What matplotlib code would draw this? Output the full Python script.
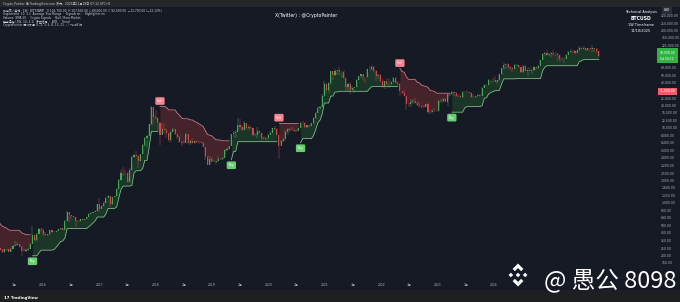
import datetime as dt
import numpy as np
import matplotlib
matplotlib.use("Agg")
import matplotlib.pyplot as plt
from matplotlib.patches import Rectangle, Polygon
from matplotlib.ticker import NullLocator, NullFormatter
from matplotlib.transforms import blended_transform_factory

plt.rcParams['font.family'] = ['DejaVu Sans', 'Noto Sans CJK SC']

# ---------------- data (BTC/USD, 2-week candles) ----------------
start_date = dt.date(2015, 1, 5)
step_days = 14
first_open = 275

closes = [
    210, 226, 235, 260, 285, 252, 237, 220, 240, 240, 225, 245, 270, 275, 281, 262, 228, 230, 233, 246, 285, 380, 322, 390, 455, 432,
    385, 378, 385, 432, 412, 416, 420, 447, 458, 440, 575, 760, 700, 665, 655, 570, 570, 610, 602, 617, 655, 705, 730, 765, 790, 965,
    820, 920, 1000, 1170, 1230, 970, 1190, 1240, 1560, 2050, 2520, 2500, 2480, 1920, 2750, 4100, 4350, 4250, 3650, 4450, 6000, 7400, 7800, 11200, 19100, 14000,
    13600, 11500, 8100, 9600, 9500, 8500, 7000, 8900, 9700, 8200, 7700, 6500, 6400, 6300, 8200, 6300, 6700, 6250, 6700, 6600, 6450, 6400, 5600, 4100, 3250, 3850,
    3550, 3550, 3650, 3900, 3900, 3990, 5050, 5300, 5750, 8200, 8700, 8900, 10800, 10300, 9500, 11500, 10100, 10400, 10000, 7950, 7950, 9200, 8500, 7450, 7100, 7300,
    8100, 8600, 9900, 9650, 8050, 5800, 6800, 7100, 8900, 9650, 9450, 9450, 9000, 9250, 9950, 11800, 11650, 10250, 10900, 10650, 11500, 13750, 15950, 18200, 19200, 26500,
    38200, 32300, 39200, 57500, 51000, 58100, 58700, 56200, 56600, 46500, 35700, 39100, 32200, 33700, 35400, 43800, 49300, 51800, 48300, 48200, 61500, 61300, 65000, 57200, 50100, 50800,
    41800, 36300, 42400, 38400, 38400, 41300, 46400, 39700, 38500, 31300, 29400, 26600, 21000, 20800, 22500, 23200, 21500, 20000, 19400, 19300, 19200, 20600, 16300, 16500, 17100, 16850,
    17100, 22700, 22900, 24600, 22400, 28000, 28400, 30300, 29200, 26900, 26800, 25900, 30500, 30300, 29800, 29000, 26100, 25800, 26500, 27900, 26900, 34500, 37100, 37500, 43800, 43000,
    44000, 41600, 43000, 51800, 63100, 68400, 71300, 65700, 63100, 61500, 69300, 69600, 64300, 55800, 68100, 58100, 59500, 57400, 59400, 65800, 63000, 67900, 80400, 98000, 99900, 95100,
    98300, 101300, 97700, 96100, 94200, 84000, 82400, 83800, 93700, 104100, 107000, 105600, 101000, 109200, 117300, 114200, 117400, 108300, 115300, 112200, 115100, 114500, 104700, 92000,
]
highs = [
    300, 310, 260, 262, 300, 290, 260, 240, 245, 245, 240, 252, 272, 315, 300, 285, 265, 240, 240, 250, 290, 500, 380, 400, 470, 465,
    460, 410, 390, 440, 440, 420, 425, 450, 468, 460, 590, 780, 770, 700, 680, 660, 590, 615, 612, 620, 660, 740, 750, 765, 795, 975,
    1160, 930, 1060, 1190, 1290, 1250, 1200, 1250, 1600, 2100, 2760, 3000, 2800, 2650, 2950, 4200, 4480, 4980, 4300, 4500, 6200, 7600, 8000, 11400, 19800, 19200,
    17250, 14100, 11900, 11800, 11700, 9900, 8600, 9000, 9900, 9800, 8200, 7800, 6800, 6800, 8500, 8200, 6900, 7400, 6800, 6800, 6700, 6550, 6600, 5600, 4300, 4200,
    4100, 3750, 3650, 4200, 3950, 4050, 5300, 5450, 5800, 8300, 9000, 9400, 13800, 13200, 11100, 12300, 11600, 10900, 10500, 10100, 8700, 10400, 9500, 8500, 7800, 7500,
    8200, 9200, 9900, 10500, 9950, 8150, 7000, 7450, 9450, 10000, 9950, 10400, 9800, 9450, 9950, 12100, 12450, 12050, 11100, 11000, 11750, 14050, 16500, 19400, 19900, 28400,
    41900, 40000, 40900, 58300, 57500, 61700, 60000, 64800, 57500, 59500, 46600, 39500, 41300, 36600, 35600, 44600, 49400, 52100, 52900, 48400, 62000, 67000, 69000, 66300, 59200, 51900,
    52000, 44400, 42600, 45800, 45400, 42400, 48200, 47300, 42900, 40000, 31400, 32200, 26700, 21500, 24200, 24600, 25200, 22000, 22800, 20300, 20500, 21000, 21500, 17200, 18000, 18400,
    17100, 23300, 24200, 25200, 25100, 28400, 29200, 31000, 30500, 29800, 28200, 28400, 31400, 31400, 31800, 30000, 30200, 28100, 26900, 28000, 28600, 35000, 38000, 38400, 44700, 44000,
    45900, 49000, 43800, 52800, 63900, 73800, 71700, 72800, 67200, 64800, 71900, 71900, 70000, 64500, 68400, 70000, 62700, 65100, 60600, 66500, 66000, 69500, 80500, 99600, 103900, 108300,
    99900, 102700, 109400, 102500, 99500, 95000, 88800, 88500, 95700, 104900, 111900, 110400, 110600, 109700, 123200, 120200, 124500, 117600, 116800, 117900, 126200, 116000, 116400, 107500,
]
lows = [
    170, 205, 210, 230, 255, 240, 235, 218, 218, 232, 222, 224, 240, 265, 270, 258, 195, 226, 225, 230, 245, 280, 300, 315, 385, 415,
    365, 365, 365, 380, 400, 405, 410, 418, 440, 440, 440, 570, 550, 620, 645, 480, 565, 565, 595, 600, 615, 650, 690, 725, 755, 790,
    750, 820, 910, 990, 1160, 890, 950, 1170, 1230, 1550, 1950, 2300, 2350, 1850, 1900, 2650, 3950, 4050, 2970, 3650, 4450, 5500, 5500, 7800, 11000, 11000,
    12800, 9200, 6000, 8000, 8400, 7300, 6550, 6600, 8800, 8000, 7050, 6300, 5800, 6100, 6300, 6100, 5900, 6200, 6100, 6400, 6200, 6250, 5500, 3700, 3200, 3250,
    3500, 3500, 3350, 3550, 3700, 3800, 3950, 4950, 5150, 5750, 7500, 7450, 8950, 9700, 9100, 9400, 9500, 9350, 9700, 7800, 7800, 7300, 8450, 6500, 7050, 6450,
    6850, 8100, 8550, 9500, 8000, 3850, 5700, 6600, 6800, 8100, 8800, 9250, 8850, 8950, 9050, 9900, 11150, 9900, 9850, 10150, 10550, 11400, 13200, 15900, 17600, 19000,
    26000, 28800, 29200, 37900, 43000, 49300, 50400, 51500, 47100, 46000, 30000, 31000, 28800, 32700, 29300, 35300, 43800, 46300, 42800, 39600, 47100, 58000, 60100, 53500, 42000, 45500,
    40500, 34000, 32900, 38000, 34300, 37200, 40900, 39200, 37600, 26700, 28000, 26600, 17600, 18800, 19200, 20700, 20800, 19500, 18500, 18100, 18200, 18900, 15600, 15500, 16000, 16300,
    16500, 17100, 22300, 21400, 22000, 19600, 26600, 27200, 27100, 25800, 26000, 25400, 24800, 29600, 29600, 28900, 25200, 25300, 24900, 26000, 26600, 26900, 34100, 34800, 37000, 40200,
    40800, 41500, 38500, 42500, 50500, 59000, 60800, 61000, 59600, 56500, 60800, 67200, 63400, 53500, 54300, 57500, 49100, 57200, 52600, 57500, 59800, 62000, 66800, 80300, 90800, 94300,
    91300, 89300, 91000, 91200, 78200, 76600, 81600, 74500, 83100, 92900, 100700, 100400, 98200, 99700, 107500, 112000, 112700, 107300, 107300, 108700, 104000, 103500, 98900, 89000,
]

# labels below ~160 sit under the watermark in the reference
price_ticks = [160, 200, 250, 320, 400, 500, 640, 800, 1000, 1250, 1600, 2000, 2500, 3200,
               4000, 5000, 6400, 8000, 10000, 12500, 16000, 20000, 25000, 32000, 40000, 50000, 64000,
               80000, 100000, 125000, 160000, 200000, 250000, 320000]
tick_years = list(range(2015, 2025))   # labels further right sit under the watermark
axis_tag_level = 31000

atr_period = 10
atr_mult = 3.1

# ---------------- colours ----------------
BG = '#161a25'
UP, DOWN = '#43a853', '#d5434c'
ST_UP, ST_DN = '#8ccf95', '#e58a93'
FILL_UP, FILL_DN = '#1b3628', '#45232b'
TXT = '#b2b5be'

# ---------------- prep ----------------
n = min(len(closes), len(highs), len(lows))
c = np.array(closes[:n], float)
h = np.array(highs[:n], float)
l = np.array(lows[:n], float)
o = np.concatenate([[first_open], c[:-1]])


def decyear(d):
    return d.year + (d.toordinal() - dt.date(d.year, 1, 1).toordinal()) / 365.25


x = np.array([decyear(start_date + dt.timedelta(days=step_days * i)) for i in range(n)])

# Supertrend indicator
tr = np.maximum.reduce([h - l, np.abs(h - o), np.abs(l - o)])
atr = np.empty(n)
atr[0] = tr[0]
for i in range(1, n):
    atr[i] = atr[i - 1] + (tr[i] - atr[i - 1]) / atr_period
hl2 = (h + l) / 2
up = hl2 - atr_mult * atr
dn = hl2 + atr_mult * atr
trend = np.empty(n, int)
trend[0] = -1
for i in range(1, n):
    if c[i - 1] > up[i - 1]:
        up[i] = max(up[i], up[i - 1])
    if c[i - 1] < dn[i - 1]:
        dn[i] = min(dn[i], dn[i - 1])
    if trend[i - 1] == -1 and c[i] > dn[i - 1]:
        trend[i] = 1
    elif trend[i - 1] == 1 and c[i] < up[i - 1]:
        trend[i] = -1
    else:
        trend[i] = trend[i - 1]
st = np.where(trend == 1, up, dn)
ohlc4 = (o + h + l + c) / 4

# ---------------- figure ----------------
W, H = 680, 302
fig = plt.figure(figsize=(W / 100, H / 100), dpi=100, facecolor=BG)


def fig_rect(x0, y0, x1, y1):
    return [x0 / W, 1 - y1 / H, (x1 - x0) / W, (y1 - y0) / H]


ax = fig.add_axes(fig_rect(0, 8, 657, 281))
ax.set_facecolor(BG)
for s in ax.spines.values():
    s.set_visible(False)
ax.set_yscale('log')
ax.set_xlim(2015.24, 2026.89)
ax.set_ylim(91.2, 398000)

# supertrend runs
starts = [0] + [i for i in range(1, n) if trend[i] != trend[i - 1]] + [n]
for a, b in zip(starts[:-1], starts[1:]):
    seg = slice(a, b)
    is_up = trend[a] == 1
    ax.fill_between(x[seg], st[seg], ohlc4[seg], color=FILL_UP if is_up else FILL_DN,
                    linewidth=0, zorder=1)
    ax.plot(x[seg], st[seg], color=ST_UP if is_up else ST_DN, lw=0.5, zorder=2)

# candles
cols = np.where(c >= o, UP, DOWN)
ax.vlines(x, l, h, colors=cols, lw=0.35, zorder=3)
ax.bar(x, np.abs(c - o), bottom=np.minimum(o, c), width=7 / 365.25, color=cols,
       linewidth=0, zorder=3)

# buy / sell labels
for i in starts[1:-1]:
    if trend[i] == 1:
        ax.annotate('Buy', xy=(x[i], up[i]), xytext=(0, -2.5), textcoords='offset points',
                    ha='center', va='top', fontsize=2.2, color='white', zorder=5,
                    bbox=dict(boxstyle='round,pad=0.6,rounding_size=0.4', fc='#66d071', ec='none'))
    else:
        ax.annotate('Sell', xy=(x[i], dn[i]), xytext=(0, 2.5), textcoords='offset points',
                    ha='center', va='bottom', fontsize=2.2, color='white', zorder=5,
                    bbox=dict(boxstyle='round,pad=0.6,rounding_size=0.4', fc='#f48490', ec='none'))

# axes ticks (price labels hidden where the axis tags cover them)
tags = [(c[-1], 0.075), (axis_tag_level, 0.04)]
shown_ticks = [v for v in price_ticks
               if all(abs(np.log10(v) - np.log10(t)) > gap for t, gap in tags)]
ax.yaxis.tick_right()
ax.set_yticks(shown_ticks)
ax.set_yticklabels([f"{v:,.2f}" for v in shown_ticks])
ax.yaxis.set_minor_locator(NullLocator())
ax.yaxis.set_minor_formatter(NullFormatter())
ax.tick_params(axis='y', length=0, pad=3, labelsize=2.2, labelcolor=TXT)

xt, xl = [], []
for yr in tick_years:
    if yr > tick_years[0]:
        xt.append(yr)
        xl.append(str(yr))
    if yr < tick_years[-1]:
        xt.append(yr + 0.5)
        xl.append('7月')
ax.set_xticks(xt)
ax.set_xticklabels(xl)
ax.tick_params(axis='x', length=0, pad=1.5, labelsize=2.2, labelcolor=TXT)

# axis price tags
blend = blended_transform_factory(ax.transAxes, ax.transData)
ax.text(1.004, c[-1], f"{c[-1]:,.2f}\n6d 04:12", transform=blend, ha='left', va='center',
        fontsize=2.2, color='white', linespacing=1.6, zorder=6, clip_on=False,
        bbox=dict(boxstyle='square,pad=0.9', fc='#2fb344', ec='none'))
ax.text(1.004, axis_tag_level, f"{axis_tag_level:,.2f}", transform=blend, ha='left',
        va='center', fontsize=2.2, color='white', zorder=6, clip_on=False,
        bbox=dict(boxstyle='square,pad=0.5', fc='#f05d6a', ec='none'))

# ---------------- overlay decorations (pixel coords) ----------------
ov = fig.add_axes([0, 0, 1, 1], zorder=10)
ov.set_xlim(0, W)
ov.set_ylim(H, 0)
ov.axis('off')
ov.patch.set_alpha(0)

ov.add_patch(Rectangle((0, 0), W, 6.5, color='#262729', lw=0))
ov.add_patch(Rectangle((0, 289.5), W, 12.5, color='#1e1f22', lw=0))
ov.text(3, 3.4, 'Crypto_Painter 在 TradingView.com 发布，2025年11月18日 07:12 UTC+8',
        fontsize=2.2, color='#c9ccd3', va='center')

legend_lines = [
    '比特币 / 美元 · 1W · BITSTAMP   O 104,700.00  H 107,500.00  L 89,000.00  C 92,000.00  −12,700.00 (−12.13%)',
    'Supertrend  10  3.1  Average True Range  ·  Signals on  ·  Highlighter on',
    'Volume  SMA 20  ·  Crypto Signals  ·  Bull / Bear Market',
    '趋势追踪 (1W, 10, 3.1)  多空信号  ·  ATR  ·  Trend',
    'CryptoPainter 周线支撑 (1, 2, 3, 5, 8, 13, 21 ...)  均线系统',
]
for k, t in enumerate(legend_lines):
    ov.text(3, 10.5 + k * 3.6, t, fontsize=2.1, color='#d1d4dc', va='center')

ov.text(306, 15.5, 'X(Twitter) : @CryptoPainter', fontsize=3.3, color='white',
        ha='center', va='center')
ov.text(641, 12, 'Technical Analysis', fontsize=2.5, color='white', ha='center', va='center')
ov.text(641, 18.5, 'BTCUSD', fontsize=3.3, color='white', ha='center', va='center',
        fontweight='bold')
ov.text(641, 25, '1W Timeframe', fontsize=2.5, color='white', ha='center', va='center')
ov.text(641, 31.5, '11/18/2025', fontsize=2.5, color='white', ha='center', va='center')
ov.text(667, 10, 'USD', fontsize=2.2, color='white', ha='center', va='center',
        bbox=dict(boxstyle='square,pad=0.6', fc='#2a2e39', ec='none'))

ov.text(4, 297.5, '17 TradingView', fontsize=2.8, color='white', va='center',
        fontweight='bold')

# Binance-style logo
cx, cy, s = 518, 275, 11.5


def poly(pts):
    ov.add_patch(Polygon([(cx + px * s, cy - py * s) for px, py in pts], closed=True,
                         color='white', lw=0))


def diamond(x0, y0, r):
    poly([(x0, y0 + r), (x0 + r, y0), (x0, y0 - r), (x0 - r, y0)])


diamond(0, 0, 0.2)
diamond(-0.62, 0, 0.2)
diamond(0.62, 0, 0.2)
poly([(0, 1), (0.47, 0.53), (0.27, 0.33), (0, 0.6), (-0.27, 0.33), (-0.47, 0.53)])
poly([(0, -1), (0.47, -0.53), (0.27, -0.33), (0, -0.6), (-0.27, -0.33), (-0.47, -0.53)])

ov.text(676, 287, '@ 愚公 8098', fontsize=17, color='white', ha='right', va='baseline',
        family=['Noto Sans CJK SC', 'DejaVu Sans'])

fig.savefig('out.png', dpi=100, facecolor=BG)
